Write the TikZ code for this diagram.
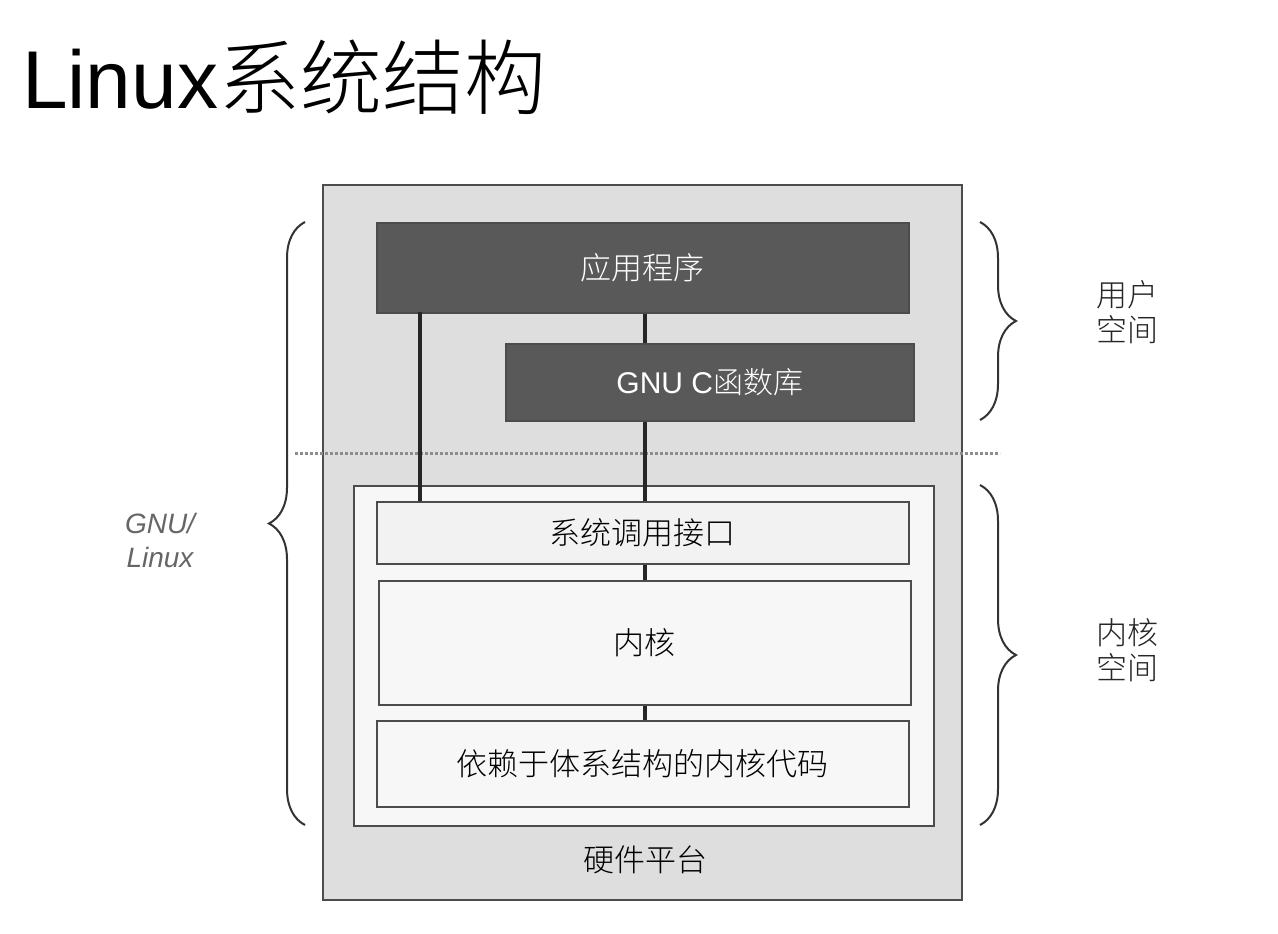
\documentclass[tikz,border=0pt]{standalone}
\usepackage{fontspec}
\setmainfont{Liberation Sans}
\newfontfamily\cjk{Noto Sans CJK SC Light}
\usetikzlibrary{decorations.pathreplacing}
\begin{document}
\begin{tikzpicture}[x=1pt,y=-1pt,
  darkbox/.style={draw=black!70,fill=black!65,line width=1.5pt},
  lightbox/.style={draw=black!70,fill=black!3,line width=1.5pt},
  lbl/.style={font=\fontsize{31}{35}\selectfont\cjk},
  conn/.style={line width=3.5pt,black!85},
  br/.style={decorate,decoration={brace,amplitude=36pt},line width=2pt,black!80}]
\useasboundingbox (0,0) rectangle (1278,934);
\fill[white] (0,0) rectangle (1278,934);
\node[anchor=base west,inner sep=0] (title) at (22,108) {\fontsize{82}{90}\selectfont Linux\cjk 系统结构};
\draw[draw=black!70,fill=black!13,line width=2pt] (323,185) rectangle (962,900);
\node[darkbox,minimum width=532,minimum height=90,anchor=north west,text=white,lbl] (app) at (376,222) {应用程序};
\node[darkbox,minimum width=408,minimum height=77,anchor=north west,text=white,font=\fontsize{30}{34}\selectfont] (lib) at (505,343) {GNU C{\cjk 函数库}};
\draw[black!45,dotted,line width=3pt] (295,453) -- (1000,453);
\node[lightbox,minimum width=580,minimum height=340,anchor=north west,fill=black!3] (kern) at (353,485) {};
\node[lightbox,minimum width=532,minimum height=62,anchor=north west,fill=white!95!black,lbl] (sci) at (376,501) {系统调用接口};
\node[lightbox,minimum width=532,minimum height=124,anchor=north west,lbl] (core) at (378,580) {内核};
\node[lightbox,minimum width=532,minimum height=86,anchor=north west,lbl] (arch) at (376,720) {依赖于体系结构的内核代码};
\node[lbl] (hw) at (645,860) {硬件平台};
\coordinate (a1) at (420,312); \coordinate (a2) at (420,501);
\draw[conn] (a1) -- (a2);
\draw[conn] (app.south -| 645,0) -- (lib.north -| 645,0);
\draw[conn] (lib.south -| 645,0) -- (sci.north -| 645,0);
\draw[conn] (sci.south -| 645,0) -- (core.north -| 645,0);
\draw[conn] (core.south -| 645,0) -- (arch.north -| 645,0);
\coordinate (lb1) at (305,825); \coordinate (lb2) at (305,222);
\draw[br] (lb1) -- (lb2);
\coordinate (ub1) at (980,222); \coordinate (ub2) at (980,420);
\draw[br] (ub1) -- (ub2);
\coordinate (kb1) at (980,485); \coordinate (kb2) at (980,825);
\draw[br] (kb1) -- (kb2);
\node[font=\fontsize{28}{34}\selectfont\itshape,text=black!60,align=center] (gl) at (160,540) {GNU/\\Linux};
\node[lbl,align=center,text=black!85] (us) at (1127,312) {用户\\空间};
\node[lbl,align=center,text=black!85] (ks) at (1127,650) {内核\\空间};
\end{tikzpicture}
\end{document}
